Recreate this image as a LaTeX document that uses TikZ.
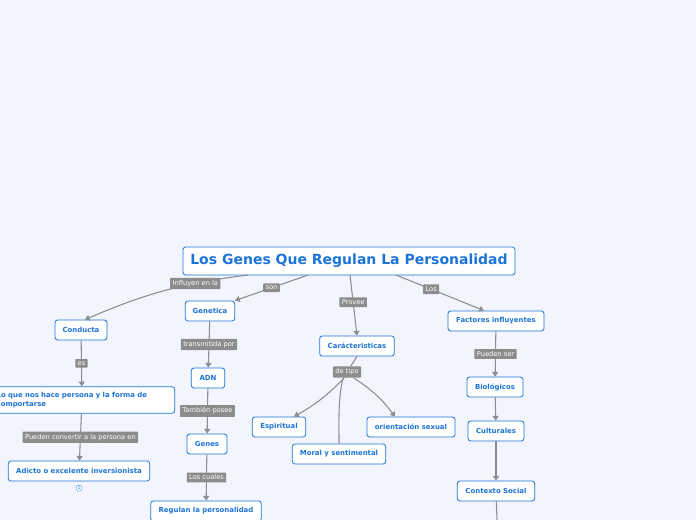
\documentclass[tikz,border=0pt]{standalone}
\usepackage{fontspec}
\setmainfont{DejaVu Sans}
\usetikzlibrary{arrows.meta}
\definecolor{bg}{HTML}{F2F5FE}
\definecolor{nodeblue}{HTML}{1C74D9}
\definecolor{linegray}{HTML}{8A8D91}
\definecolor{lblgray}{HTML}{8C8C8C}
\tikzset{
  topic/.style={draw=nodeblue, fill=white, rounded corners=2pt, line width=0.6pt,
    text=nodeblue, font=\fontsize{5.2}{6.2}\selectfont\bfseries, minimum height=15pt, inner xsep=4pt},
  lbl/.style={fill=lblgray, text=white, font=\fontsize{5}{5.5}\selectfont, inner sep=1.8pt, rounded corners=0.5pt},
  conn/.style={draw=linegray, line width=0.8pt, -{Triangle[width=4.5pt,length=3.5pt]}},
  plain/.style={draw=linegray, line width=0.8pt}
}
\begin{document}
\begin{tikzpicture}[x=0.75pt, y=-0.75pt]
  \fill[bg] (0,0) rectangle (696,520);
  \useasboundingbox (0,0) rectangle (696,520);
  % main topic
  \node (title) [topic, minimum width=249pt, minimum height=21pt, font=\fontsize{10.5}{12}\selectfont\bfseries] at (349,261) {Los Genes Que Regulan La Personalidad};
  \coordinate (t1) at (248,275);
  \coordinate (t2) at (308,275);
  \coordinate (t3) at (350,275);
  \coordinate (t4) at (396,275);
  % left branch
  \node (conducta) [topic, minimum width=39pt] at (81,330) {Conducta};
  \node (persona) [topic, minimum width=139pt, minimum height=20pt, align=left, text width=128pt] at (82,400) {Lo que nos hace persona y la forma de\\comportarse};
  \node (adicto) [topic, minimum width=106pt] at (79,471) {Adicto o excelente inversionista};
  \node (badge) [draw=nodeblue!60, fill=white, rounded corners=1pt, inner sep=0.8pt, text=nodeblue, font=\fontsize{3.5}{4}\selectfont] at (79,488) {1};
  % genetica branch
  \node (genetica) [topic, minimum width=37pt] at (210,311) {Genetica};
  \node (adn) [topic, minimum width=25pt] at (208,378) {ADN};
  \node (genes) [topic, minimum width=30pt] at (207,444) {Genes};
  \node (regulan) [topic, minimum width=83pt] at (206,511) {Regulan la personalidad};
  % caracteristicas branch
  \node (caract) [topic, minimum width=56pt] at (357,346) {Carácteristicas};
  \node (detipo) [lbl] at (347,372) {de tipo};
  \node (espiritual) [topic, minimum width=40pt] at (279,427) {Espiritual};
  \node (moral) [topic, minimum width=70pt] at (339,454) {Moral y sentimental};
  \node (orient) [topic, minimum width=66pt] at (411,427) {orientación sexual};
  % factores branch
  \node (factores) [topic, minimum width=72pt] at (496,321) {Factores influyentes};
  \node (bio) [topic, minimum width=42pt] at (495,387) {Biológicos};
  \node (cult) [topic, minimum width=42pt] at (496,431) {Culturales};
  \node (contexto) [topic, minimum width=58pt] at (496,491) {Contexto Social};
  \coordinate (bottom) at (497,520);

  \draw [conn] (t1) to[bend right=8] node[lbl, pos=0.3] {Influyen en la} ([xshift=3]conducta.north);
  \draw [conn] (t2) -- node[lbl, pos=0.5] {son} (genetica.north east);
  \draw [conn] (t3) -- node[lbl, pos=0.45] {Provee} (caract.north);
  \draw [conn] (t4) -- node[lbl, pos=0.4] {Los} ([xshift=-9]factores.north);
  \draw [conn] (conducta) -- node[lbl] {es} (persona);
  \draw [conn] (persona) -- node[lbl] {Pueden convertir a la persona en} (adicto);
  \draw [conn] (genetica) -- node[lbl] {transmitida por} (adn);
  \draw [conn] (adn) -- node[lbl] {También posee} (genes);
  \draw [conn] (genes) -- node[lbl] {Los cuales} (regulan);
  \draw [plain] (caract.south) -- (detipo);
  \draw [conn] ([xshift=-2]detipo.south) to[bend left=8] ([xshift=-9]espiritual.north east);
  \draw [plain] ([xshift=-3]detipo.south) .. controls (338,400) and (339,420) .. (moral.north);
  \draw [conn] ([xshift=5]detipo.south) to[bend left=10] ([xshift=-12]orient.north);
  \draw [conn] (factores) -- node[lbl] {Pueden ser} (bio);
  \draw [conn] (bio) -- (cult);
  \draw [conn] (cult) -- (contexto);
  \draw [plain] (contexto) -- (bottom);
\end{tikzpicture}
\end{document}
